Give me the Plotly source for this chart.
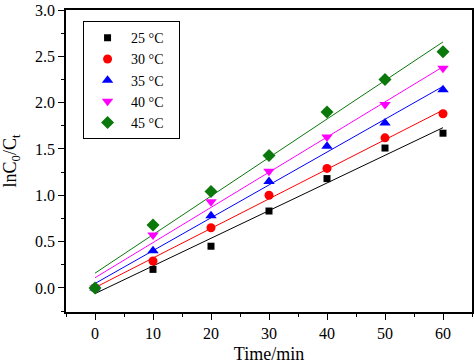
import numpy as np
import plotly.graph_objects as go

time_min = [0, 10, 20, 30, 40, 50, 60]
labels = ["25 °C", "30 °C", "35 °C", "40 °C", "45 °C"]
v25 = [0.00, 0.20, 0.45, 0.83, 1.18, 1.51, 1.67]
v30 = [0.00, 0.29, 0.65, 1.00, 1.29, 1.62, 1.88]
v35 = [0.00, 0.40, 0.78, 1.15, 1.53, 1.78, 2.14]
v40 = [0.00, 0.57, 0.93, 1.26, 1.63, 1.98, 2.37]
v45 = [0.00, 0.68, 1.04, 1.43, 1.90, 2.25, 2.55]
series = [v25, v30, v35, v40, v45]
colors = ["#000000", "#FF0000", "#0000FF", "#FF00FF", "#0B780B"]
symbols = ["square", "circle", "triangle-up", "triangle-down", "diamond"]
sizes = [7, 9, 10, 10, 10]

FONT = "Liberation Serif, serif"
fig = go.Figure()
t = np.array(time_min, dtype=float)
for vals, col in zip(series, colors):
    k, b = np.polyfit(t, np.array(vals), 1)
    xs = np.array([t.min(), t.max()])
    fig.add_trace(go.Scatter(x=xs, y=k * xs + b, mode="lines",
                             line=dict(color=col, width=1), showlegend=False,
                             hoverinfo="skip"))
for vals, col, sym, sz, lab in zip(series, colors, symbols, sizes, labels):
    fig.add_trace(go.Scatter(x=time_min, y=vals, mode="markers",
                             name=lab + "\u00a0\u00a0\u00a0",
                             marker=dict(color=col, symbol=sym, size=sz,
                                         line=dict(width=0))))

axis_common = dict(showgrid=False, zeroline=False, showline=True, linecolor="black",
                   linewidth=1.5, mirror=True, ticks="outside", ticklen=6,
                   tickwidth=1.2, tickcolor="black", automargin=False,
                   tickfont=dict(family=FONT, size=16, color="black"))
fig.update_xaxes(range=[-5, 65], tickvals=[0, 10, 20, 30, 40, 50, 60],
                 minor=dict(ticks="outside", ticklen=3, tickcolor="black", dtick=5, tick0=0),
                 title=dict(text="Time/min", font=dict(family=FONT, size=18, color="black")),
                 **axis_common)
fig.update_yaxes(range=[-0.26, 3.0], tickvals=[0, 0.5, 1, 1.5, 2, 2.5, 3],
                 ticktext=["0.0", "0.5", "1.0", "1.5", "2.0", "2.5", "3.0"],
                 minor=dict(ticks="outside", ticklen=3, tickcolor="black", dtick=0.25, tick0=0),
                 title=dict(text="lnC<sub>0</sub>/C<sub>t</sub>",
                            font=dict(family=FONT, size=18, color="black")),
                 **axis_common)
fig.update_layout(width=474, height=364, margin=dict(l=66, r=2, t=10, b=52, autoexpand=False),
                  plot_bgcolor="white", paper_bgcolor="white",
                  legend=dict(x=0.042, y=0.963, xanchor="left", yanchor="top",
                              bordercolor="black", borderwidth=1, bgcolor="white",
                              font=dict(family=FONT, size=14, color="black"),
                              tracegroupgap=0, itemwidth=37))
fig.write_html("out.html", config={"displayModeBar": False},
               post_script="document.body.style.margin='0';document.body.style.overflow='hidden';")
